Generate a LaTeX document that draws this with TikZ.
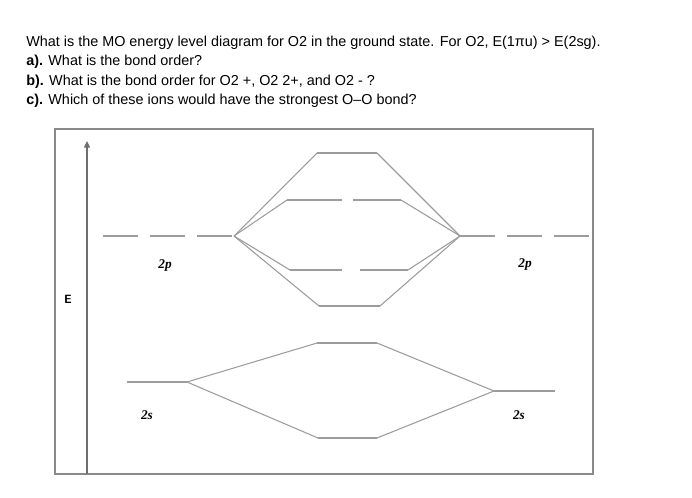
\documentclass[tikz,border=0pt]{standalone}
\usepackage{fontspec}
\setmainfont{Liberation Sans}
\newfontfamily\orbfont{Liberation Serif}
\usetikzlibrary{arrows.meta}
\definecolor{levelgray}{HTML}{9C9C9C}
\definecolor{framegray}{HTML}{8A8A8A}

\begin{document}
\begin{tikzpicture}[x=0.75pt,y=-0.75pt,
    level/.style={line width=1pt,color=levelgray},
    corr/.style={line width=0.8pt,color=levelgray},
    atomdash/.style={level,dash pattern=on 26.25pt off 9pt},
    orb/.style={font=\orbfont\bfseries\itshape\fontsize{10}{11}\selectfont,inner sep=0pt},
    question/.style={anchor=base west,inner sep=0pt,font=\fontsize{10.8}{12}\selectfont}]
    \useasboundingbox (0,0) rectangle (692,497);
    % question text
    \node[question] (q1) at (26,46) {What is the MO energy level diagram for O2 in the ground state. For O2, E(1πu) > E(2sg).};
    \node[question] (q2) at (26,65.5) {\textbf{a).} What is the bond order?};
    \node[question] (q3) at (26,85) {\textbf{b).} What is the bond order for O2 +, O2 2+, and O2 - ?};
    \node[question] (q4) at (26,104) {\textbf{c).} Which of these ions would have the strongest O--O bond?};
    % frame and energy axis
    \draw[framegray,line width=1.3pt] (55,129) rectangle (593,474);
    \draw[-{Triangle[length=5pt,width=4.5pt]},line width=1pt,color=framegray!80!black] (87,474) -- (87,141);
    \node[font=\sffamily\bfseries\fontsize{9}{10}\selectfont] (E) at (68,299) {E};
    % atomic levels
    \coordinate (pL1) at (103,236);  \coordinate (pL2) at (234,236);
    \coordinate (pR1) at (460,236);  \coordinate (pR2) at (593,236);
    \coordinate (sL1) at (127,382);  \coordinate (sL2) at (187,382);
    \coordinate (sR1) at (494,391);  \coordinate (sR2) at (555,391);
    % molecular levels
    \coordinate (sgs1) at (317,153); \coordinate (sgs2) at (377,153);
    \coordinate (pis1) at (287,200); \coordinate (pis2) at (401,200);
    \coordinate (pib1) at (290,270); \coordinate (pib2) at (408,270);
    \coordinate (sgb1) at (319,306); \coordinate (sgb2) at (380,306);
    \coordinate (ssa1) at (317,343); \coordinate (ssa2) at (377,343);
    \coordinate (ssb1) at (318,438); \coordinate (ssb2) at (377,438);
    \draw[atomdash] (pL1) -- (pL2);
    \draw[atomdash] (pR1) -- (pR2);
    \draw[level] (sL1) -- (sL2);
    \draw[level] (sR1) -- (sR2);
    \draw[level] (sgs1) -- (sgs2);
    \draw[level,dash pattern=on 41.25pt off 8.25pt] (pis1) -- (pis2);
    \draw[level,dash pattern=on 39pt off 13.5pt] (pib1) -- (pib2);
    \draw[level] (sgb1) -- (sgb2);
    \draw[level] (ssa1) -- (ssa2);
    \draw[level] (ssb1) -- (ssb2);
    % correlation lines
    \foreach \m in {sgs,pis,pib,sgb} {
        \draw[corr] (pL2) -- (\m1);
        \draw[corr] (\m2) -- (pR1);
    }
    \foreach \m in {ssa,ssb} {
        \draw[corr] (sL2) -- (\m1);
        \draw[corr] (\m2) -- (sR1);
    }
    % labels
    \node[orb] (lp2L) at (165,265) {2p};
    \node[orb] (lp2R) at (525,264) {2p};
    \node[orb] (ls2L) at (147,415) {2s};
    \node[orb] (ls2R) at (519,415) {2s};
\end{tikzpicture}
\end{document}
